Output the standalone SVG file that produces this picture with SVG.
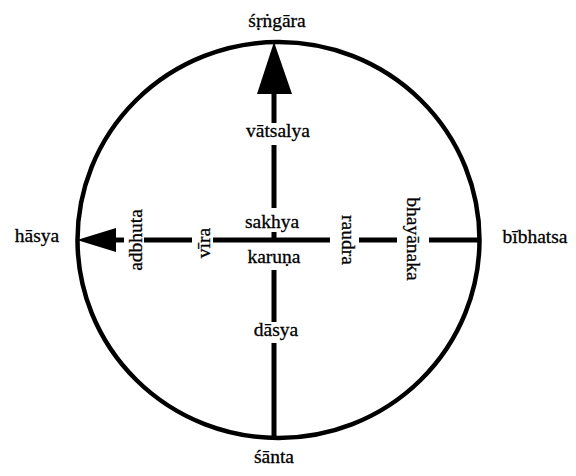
<svg xmlns="http://www.w3.org/2000/svg" width="576" height="476" viewBox="0 0 576 476">
<style>
.lbl{font-family:"Liberation Serif","Times New Roman",serif;font-size:19.5px;fill:#000;stroke:#000;stroke-width:0.3px;text-anchor:middle}
.seg{stroke:#000;stroke-width:5;fill:none}
.head{fill:#000;stroke:none}
</style>
<rect width="576" height="476" fill="#fff"/>
<g id="wheel">
<ellipse cx="278.5" cy="240" rx="201" ry="198" fill="none" stroke="#000" stroke-width="4.5"/>
</g>
<g id="connectors">
<polygon class="head" points="274,42 257,94 292,94"/>
<line class="seg" x1="274" y1="93" x2="274" y2="123"/>
<line class="seg" x1="274" y1="145" x2="274" y2="208"/>
<line class="seg" x1="274" y1="232" x2="274" y2="242"/>
<line class="seg" x1="274" y1="270" x2="274" y2="322"/>
<line class="seg" x1="274" y1="343" x2="274" y2="439"/>
<polygon class="head" points="77,240 116,228 116,252"/>
<line class="seg" x1="115" y1="240" x2="124" y2="240"/>
<line class="seg" x1="144" y1="240" x2="192" y2="240"/>
<line class="seg" x1="213" y1="240" x2="330" y2="240"/>
<line class="seg" x1="359" y1="240" x2="397" y2="240"/>
<line class="seg" x1="429" y1="240" x2="480" y2="240"/>
</g>
<g id="srngara"><text class="lbl" x="277" y="27">śṛṅgāra</text></g>
<g id="vatsalya"><text class="lbl" x="278" y="137">vātsalya</text></g>
<g id="sakhya"><text class="lbl" x="272" y="228">sakhya</text></g>
<g id="karuna"><text class="lbl" x="274" y="263">karuṇa</text></g>
<g id="dasya"><text class="lbl" x="276" y="336">dāsya</text></g>
<g id="santa"><text class="lbl" x="274" y="463">śānta</text></g>
<g id="hasya"><text class="lbl" x="37" y="242">hāsya</text></g>
<g id="bibhatsa"><text class="lbl" x="535" y="243">bībhatsa</text></g>
<g id="adbhuta"><text class="lbl" transform="translate(142,240) rotate(-90)">adbhuta</text></g>
<g id="vira"><text class="lbl" transform="translate(210,243) rotate(-90)">vīra</text></g>
<g id="raudra"><text class="lbl" transform="translate(342,240) rotate(90)">raudra</text></g>
<g id="bhayanaka"><text class="lbl" transform="translate(407,239) rotate(90)">bhayānaka</text></g>
</svg>
